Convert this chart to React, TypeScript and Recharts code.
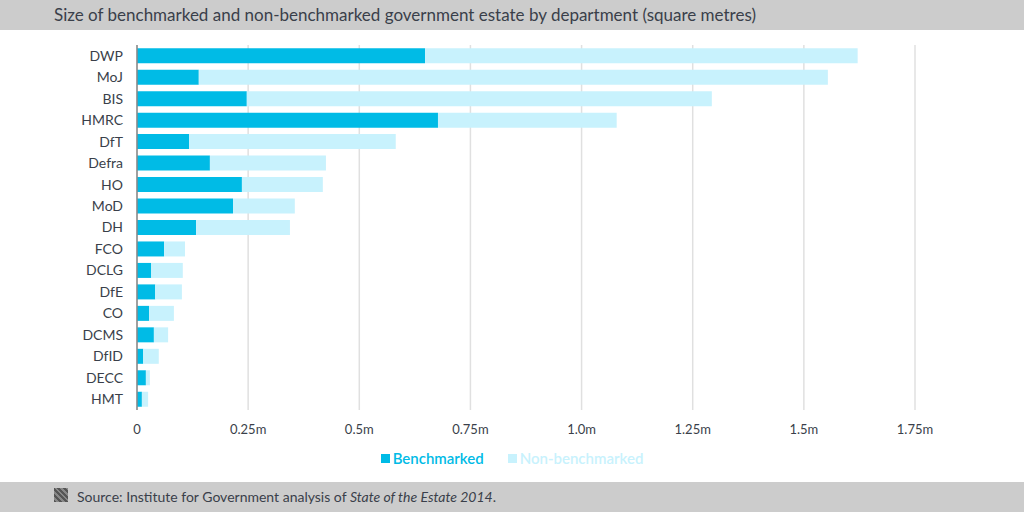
import {
  BarChart,
  Bar,
  XAxis,
  YAxis,
  CartesianGrid,
} from "recharts";

const departments = [
  "DWP", "MoJ", "BIS", "HMRC", "DfT", "Defra", "HO", "MoD", "DH",
  "FCO", "DCLG", "DfE", "CO", "DCMS", "DfID", "DECC", "HMT",
];

// millions of square metres
const benchmarked = [
  0.648, 0.139, 0.247, 0.677, 0.117, 0.164, 0.236, 0.216, 0.133,
  0.061, 0.032, 0.041, 0.027, 0.038, 0.014, 0.02, 0.011,
];

const nonBenchmarked = [
  0.973, 1.415, 1.046, 0.402, 0.465, 0.261, 0.182, 0.139, 0.211,
  0.047, 0.071, 0.06, 0.056, 0.032, 0.035, 0.009, 0.014,
];

const xTicks = [0, 0.25, 0.5, 0.75, 1, 1.25, 1.5, 1.75];

const data = departments.map((name, i) => ({
  name,
  benchmarked: benchmarked[i],
  nonBenchmarked: nonBenchmarked[i],
}));

const FONT = "Lato, 'Open Sans', sans-serif";
const DARK = "#00bbe6";
const LIGHT = "#c8f2fd";

const formatTick = (v: number) => {
  if (v === 0) return "0";
  if (v === 1) return "1.0m";
  return `${v}m`;
};

const LegendBox = () => (
  <div
    style={{
      position: "absolute",
      left: 0,
      top: 449,
      width: 1024,
      display: "flex",
      justifyContent: "center",
      gap: 24,
      fontFamily: FONT,
      fontSize: 15,
      fontWeight: 600,
    }}
  >
    {[
      { label: "Benchmarked", color: DARK },
      { label: "Non-benchmarked", color: LIGHT },
    ].map((item) => (
      <span key={item.label} style={{ display: "flex", alignItems: "center", color: item.color }}>
        <span
          style={{
            display: "inline-block",
            width: 9,
            height: 9,
            background: item.color,
            marginRight: 3,
          }}
        />
        {item.label}
      </span>
    ))}
  </div>
);

export default function App() {
  return (
    <div
      style={{
        position: "absolute",
        left: 0,
        top: 0,
        width: 1024,
        height: 512,
        background: "#fff",
        fontFamily: FONT,
        overflow: "hidden",
      }}
    >
      <div
        style={{
          position: "absolute",
          left: 0,
          top: 0,
          width: 1024,
          height: 30,
          background: "#cccccc",
          color: "#3a3f4a",
          fontSize: 17,
          lineHeight: "30px",
          paddingLeft: 54,
          boxSizing: "border-box",
        }}
      >
        Size of benchmarked and non-benchmarked government estate by department (square metres)
      </div>

      <div style={{ position: "absolute", left: 0, top: 0 }}>
        <BarChart
          width={1024}
          height={480}
          data={data}
          layout="vertical"
          barCategoryGap="15%"
          margin={{ top: 45, right: 109, bottom: 40, left: 0 }}
        >
          <CartesianGrid horizontal={false} stroke="#e0e0e0" strokeWidth={1.5} />
          <XAxis
            type="number"
            domain={[0, 1.75]}
            ticks={xTicks}
            tickFormatter={formatTick}
            axisLine={false}
            tickLine={false}
            tickMargin={9}
            height={30}
            tick={{ fill: "#3a3f4a", fontSize: 13, fontFamily: FONT }}
          />
          <YAxis
            type="category"
            dataKey="name"
            width={137}
            interval={0}
            axisLine={{ stroke: "#888888", strokeWidth: 1.5 }}
            tickLine={false}
            tickMargin={8}
            tick={{ fill: "#3a3f4a", fontSize: 14, fontFamily: FONT }}
          />
          <Bar dataKey="benchmarked" name="Benchmarked" stackId="a" fill={DARK} isAnimationActive={false} />
          <Bar dataKey="nonBenchmarked" name="Non-benchmarked" stackId="a" fill={LIGHT} isAnimationActive={false} />
        </BarChart>
      </div>

      <LegendBox />

      <div
        style={{
          position: "absolute",
          left: 0,
          top: 482,
          width: 1024,
          height: 30,
          background: "#cccccc",
          color: "#3a3f4a",
          fontSize: 14,
          lineHeight: "30px",
        }}
      >
        <span
          style={{
            position: "absolute",
            left: 54,
            top: 6,
            width: 14,
            height: 14,
            background:
              "repeating-linear-gradient(45deg, #555 0px, #555 2px, #888 2px, #888 4px)",
          }}
        />
        <span style={{ position: "absolute", left: 77, top: 0 }}>
          Source: Institute for Government analysis of <i>State of the Estate 2014</i>.
        </span>
      </div>
    </div>
  );
}
